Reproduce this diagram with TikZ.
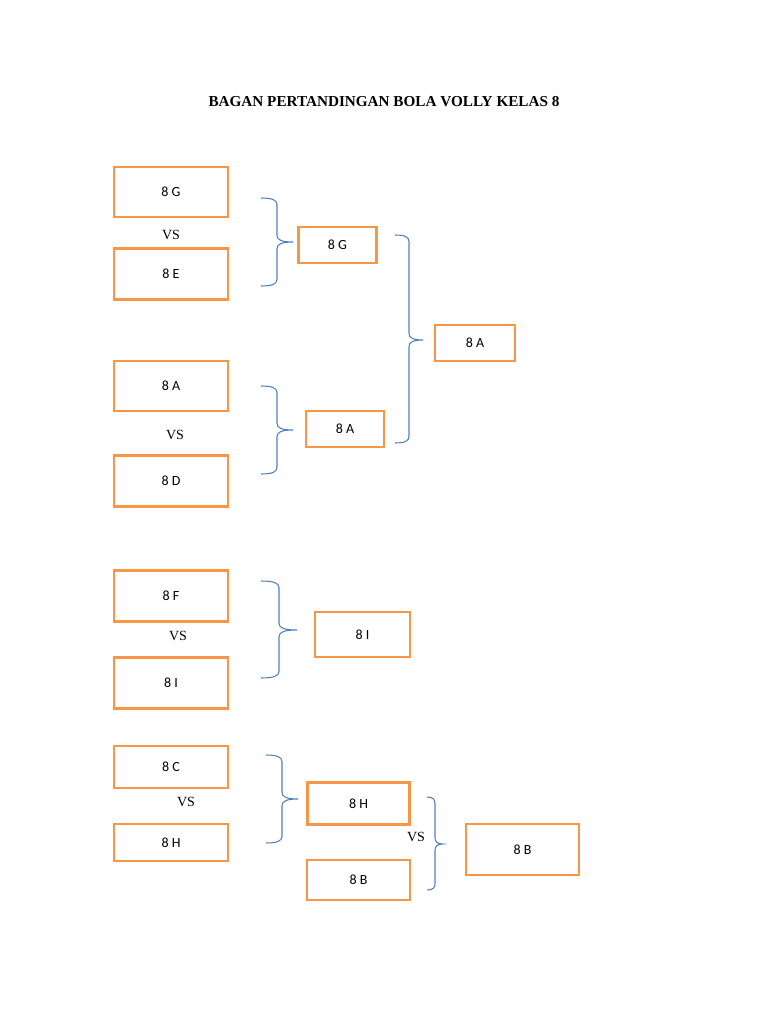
\documentclass[tikz,border=0pt]{standalone}
\usepackage{fontspec}
\setmainfont{Liberation Serif}
\setsansfont{Carlito}
\usepackage{tikz}
\usetikzlibrary{positioning, calc}
\definecolor{teamorange}{HTML}{F79646}
\definecolor{braceblue}{HTML}{4F81BD}

% curly bracket: top end, bottom end, tip
\newcommand{\bracket}[3]{%
  \draw[brc] let \p1=(#1), \p2=(#2), \p3=(#3), \n1={(\x3-\x1)/2} in
    (\x1,\y1) .. controls (\x1+0.7*\n1,\y1) and (\x1+\n1,\y1-1.5pt) .. (\x1+\n1,\y1-5pt)
    -- (\x1+\n1,\y3+5pt) .. controls (\x1+\n1,\y3+1.5pt) and (\x1+1.3*\n1,\y3) .. (\x3,\y3)
    .. controls (\x1+1.3*\n1,\y3) and (\x1+\n1,\y3-1.5pt) .. (\x1+\n1,\y3-5pt)
    -- (\x1+\n1,\y2+5pt) .. controls (\x1+\n1,\y2+1.5pt) and (\x1+0.7*\n1,\y2) .. (\x2,\y2);}

\begin{document}
\begin{tikzpicture}[
  x=0.75pt, y=-0.75pt,
  team/.style={rectangle, draw=teamorange, line width=1.5pt, minimum width=85.5pt, minimum height=38pt, inner sep=0pt, font=\sffamily\fontsize{10.5}{12}\selectfont},
  heavy/.style={line width=2.2pt},
  vs/.style={font=\fontsize{10.5}{12}\selectfont},
  brc/.style={draw=braceblue, line width=0.8pt}
]
  \useasboundingbox (0,0) rectangle (768,1024);

  \node[font=\bfseries\fontsize{11.4}{13}\selectfont] (title) at (384,102) {BAGAN PERTANDINGAN BOLA VOLLY KELAS 8};

  % group 1
  \node[team] (g1) at (171,192) {8 G};
  \node[team, heavy] (e1) at (171,274) {8 E};
  \node[vs] (vs1) at (171,235) {VS};
  \node[team, heavy, minimum width=59pt, minimum height=27pt] (g2) at (337.5,245) {8 G};

  \node[team] (a1) at (171,386) {8 A};
  \node[team, heavy] (d1) at (171,481) {8 D};
  \node[vs] (vs2) at (175,435) {VS};
  \node[team, heavy, minimum width=58.5pt, minimum height=27pt] (a2) at (345,429) {8 A};

  \node[team, heavy, minimum width=60pt, minimum height=27pt] (a3) at (475,343) {8 A};

  \coordinate (b1t) at (261,198); \coordinate (b1b) at (261,286); \coordinate (b1m) at (293,242);
  \coordinate (b2t) at (261,386); \coordinate (b2b) at (261,474); \coordinate (b2m) at (293,430);
  \coordinate (b3t) at (395,235); \coordinate (b3b) at (395,443); \coordinate (b3m) at (423,340);
  \bracket{b1t}{b1b}{b1m}
  \bracket{b2t}{b2b}{b2m}
  \bracket{b3t}{b3b}{b3m}

  % group 2
  \node[team, heavy] (f1) at (171,596) {8 F};
  \node[team, heavy] (i1) at (171,683) {8 I};
  \node[vs] (vs3) at (178,636) {VS};
  \node[team, minimum width=71pt, minimum height=34pt] (i2) at (362.5,634.5) {8 I};

  \coordinate (b4t) at (261,581); \coordinate (b4b) at (261,678); \coordinate (b4m) at (297,630);
  \bracket{b4t}{b4b}{b4m}

  % group 3
  \node[team, minimum height=31.5pt] (c1) at (171,767) {8 C};
  \node[team, minimum height=28pt] (h1) at (171,842.5) {8 H};
  \node[vs] (vs4) at (186,802) {VS};
  \node[team, heavy, minimum width=77pt, minimum height=31pt] (h2) at (358.5,803.5) {8 H};
  \node[team, minimum width=77pt, minimum height=30pt] (b1) at (358.5,879.5) {8 B};
  \node[vs] (vs5) at (416,837) {VS};
  \node[team, minimum width=85pt, minimum height=38pt] (b2) at (522.5,849.5) {8 B};

  \coordinate (b5t) at (266,755); \coordinate (b5b) at (266,843); \coordinate (b5m) at (298,799);
  \coordinate (b6t) at (427,797); \coordinate (b6b) at (427,890); \coordinate (b6m) at (443,844);
  \bracket{b5t}{b5b}{b5m}
  \bracket{b6t}{b6b}{b6m}
\end{tikzpicture}
\end{document}
